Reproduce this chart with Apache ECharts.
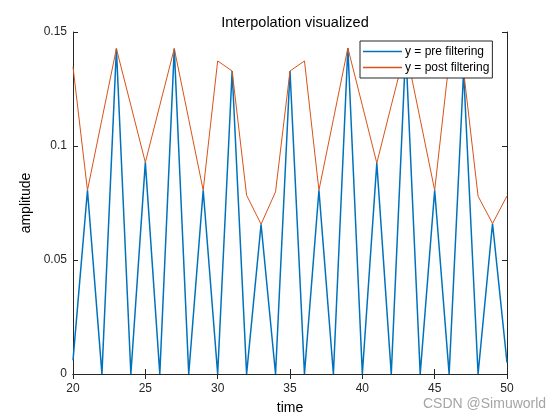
<!DOCTYPE html>
<html>
<head>
<meta charset="utf-8">
<script src="https://cdn.jsdelivr.net/npm/echarts@6/dist/echarts.min.js"></script>
<style>
html,body{margin:0;padding:0;background:#fff;}
#chart{width:560px;height:420px;}
</style>
</head>
<body>
<div id="chart"></div>
<script>
var xValues = [20,21,22,23,24,25,26,27,28,29,30,31,32,33,34,35,36,37,38,39,40,41,42,43,44,45,46,47,48,49,50];
var preFiltering = [0.006,0.0806,0,0.1427,0,0.0928,0,0.1427,0,0.0806,0,0.1329,0,0.0657,0,0.1329,0,0.0806,0,0.1430,0,0.0925,0,0.1427,0,0.0806,0,0.1329,0,0.0660,0.005];
var postFiltering = [0.1347,0.0806,0.1117,0.1427,0.1178,0.0928,0.1178,0.1427,0.1117,0.0806,0.1373,0.1329,0.0784,0.0657,0.0799,0.1329,0.1373,0.0806,0.1117,0.1430,0.1178,0.0925,0.1178,0.1427,0.1117,0.0806,0.1373,0.1329,0.0780,0.0660,0.0781];
var seriesNames = ['y = pre filtering','y = post filtering'];
var seriesColors = ['#0072BD','#D95319'];
var xTicks = [20,25,30,35,40,45,50];
var yTicks = [0,0.05,0.1,0.15];

function pairs(xs, ys){ return xs.map(function(x,i){ return [x, ys[i]]; }); }

var FONT = 'Liberation Sans, Arial, sans-serif';
var AX = '#262626';
var chart = echarts.init(document.getElementById('chart'));
var baseX = {
  type:'value', min:xTicks[0], max:xTicks[xTicks.length-1], interval:xTicks[1]-xTicks[0],
  axisLine:{show:true, lineStyle:{color:AX, width:1}},
  axisTick:{show:true, inside:true, length:5, lineStyle:{color:AX}},
  splitLine:{show:false}
};
var baseY = {
  type:'value', min:yTicks[0], max:yTicks[yTicks.length-1], interval:yTicks[1]-yTicks[0],
  axisLine:{show:true, lineStyle:{color:AX, width:1}},
  axisTick:{show:true, inside:true, length:5, lineStyle:{color:AX}},
  splitLine:{show:false}
};
chart.setOption({
  animation:false,
  backgroundColor:'#fff',
  title:{text:'Interpolation visualized', left:290, textAlign:'center', top:10,
    textStyle:{fontFamily:FONT, fontSize:14.5, fontWeight:'normal', color:'#000'}},
  grid:{left:73, right:53, top:32, bottom:46, containLabel:false},
  legend:{
    data:[
      {name:seriesNames[0], icon:'rect', itemStyle:{color:seriesColors[0], borderWidth:0}},
      {name:seriesNames[1], icon:'rect', itemStyle:{color:seriesColors[1], borderWidth:0}}
    ],
    orient:'vertical', left:360, top:41,
    backgroundColor:'#fff', borderColor:'#262626', borderWidth:1, borderRadius:0,
    padding:[3,3,3,3], itemGap:1, itemWidth:39, itemHeight:1.6,
    textStyle:{fontFamily:FONT, fontSize:12, color:'#000', padding:[0,0,0,-2], lineHeight:15}
  },
  xAxis:[
    Object.assign({}, baseX, {position:'bottom', name:'time', nameLocation:'middle', nameGap:27,
      nameTextStyle:{fontFamily:FONT, fontSize:14, color:'#000'},
      axisLabel:{show:true, margin:9, fontFamily:FONT, fontSize:12, color:AX}}),
    Object.assign({}, baseX, {position:'top', axisLabel:{show:false}})
  ],
  yAxis:[
    Object.assign({}, baseY, {position:'left', name:'amplitude', nameLocation:'middle', nameGap:35,
      nameTextStyle:{fontFamily:FONT, fontSize:14, color:'#000'},
      axisLabel:{show:true, margin:6, fontFamily:FONT, fontSize:12, color:AX}}),
    Object.assign({}, baseY, {position:'right', axisLabel:{show:false}})
  ],
  series:[
    {name:seriesNames[0], type:'line', data:pairs(xValues, preFiltering), symbol:'none',
      lineStyle:{color:seriesColors[0], width:1.5}, itemStyle:{color:seriesColors[0]}, z:2},
    {name:seriesNames[1], type:'line', data:pairs(xValues, postFiltering), symbol:'none',
      lineStyle:{color:seriesColors[1], width:1}, itemStyle:{color:seriesColors[1]}, z:3}
  ],
  graphic:[
    {type:'text', left:423, top:397, style:{text:'CSDN @Simuworld', fontFamily:FONT, fontSize:14, fill:'#a5a5a5'}}
  ]
});
</script>
</body>
</html>
